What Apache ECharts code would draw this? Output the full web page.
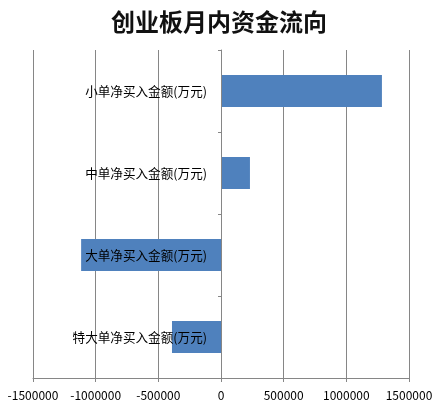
<!DOCTYPE html>
<html>
<head>
<meta charset="utf-8">
<script src="https://cdn.jsdelivr.net/npm/echarts@6/dist/echarts.min.js"></script>
<style>
html, body { margin: 0; padding: 0; background: #fff; }
#main { width: 438px; height: 409px; }
</style>
</head>
<body>
<div id="main"></div>
<script>
// 类别与数值（万元）
var categories = ['小单净买入金额(万元)', '中单净买入金额(万元)', '大单净买入金额(万元)', '特大单净买入金额(万元)'];
var netValues = [1284000, 231000, -1116000, -391000];
var axisMin = -1500000;
var axisMax = 1500000;
var axisStep = 500000;

var chart = echarts.init(document.getElementById('main'));

var option = {
    backgroundColor: '#fff',
    animation: false,
    title: {
        text: '创业板月内资金流向',
        left: 'center',
        top: 5,
        textStyle: {
            fontFamily: 'Noto Sans CJK SC',
            fontSize: 24,
            fontWeight: 'bold',
            color: '#111'
        }
    },
    grid: {
        left: 33,
        right: 29,
        top: 50,
        bottom: 31,
        containLabel: false,
        outerBoundsMode: 'none'
    },
    xAxis: {
        type: 'value',
        min: axisMin,
        max: axisMax,
        interval: axisStep,
        axisLine: { show: true, lineStyle: { color: '#868686', width: 1 } },
        axisTick: { show: true, length: 4, lineStyle: { color: '#868686' } },
        axisLabel: {
            color: '#000',
            fontSize: 12,
            fontFamily: 'Noto Sans CJK SC',
            margin: 11,
            hideOverlap: false,
            showMinLabel: true,
            showMaxLabel: true,
            formatter: function (v) { return String(v); }
        },
        splitLine: { show: true, lineStyle: { color: '#868686', width: 1 } }
    },
    yAxis: {
        type: 'category',
        data: categories,
        inverse: true,
        z: 10,
        axisLine: { show: true, onZero: true, lineStyle: { color: '#868686', width: 1 } },
        axisTick: { show: true, length: 3, lineStyle: { color: '#868686' } },
        axisLabel: {
            color: '#000',
            fontSize: 12.6,
            fontFamily: 'Noto Sans CJK SC',
            margin: -174
        }
    },
    series: [{
        type: 'bar',
        data: netValues,
        barWidth: 32,
        itemStyle: { color: '#4F81BD' }
    }]
};

chart.setOption(option);
</script>
</body>
</html>
